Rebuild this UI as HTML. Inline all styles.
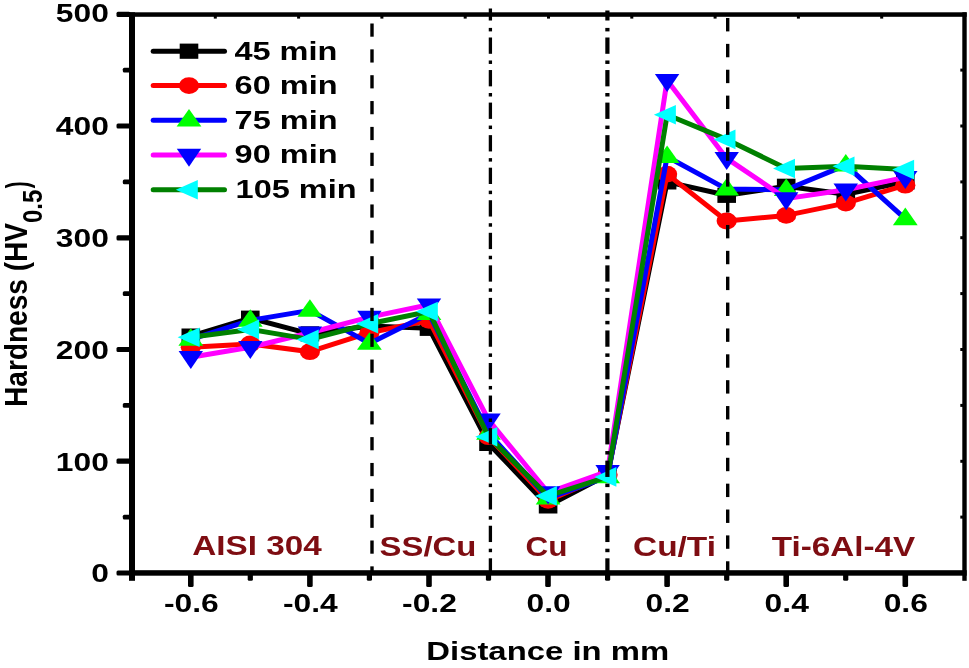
<!DOCTYPE html>
<html lang="en"><head><meta charset="utf-8"><title>Hardness vs distance</title>
<style>html,body{margin:0;padding:0;background:#fff;}body{width:969px;height:668px;overflow:hidden;}svg{display:block;}text{font-family:"Liberation Sans",Arial,Helvetica,sans-serif;font-weight:700;}</style>
</head><body>
<svg width="969" height="668" viewBox="0 0 969 668">
<rect x="0" y="0" width="969" height="668" fill="#ffffff"/>
<polyline points="190.8,336.1 250.3,318.2 309.9,333.9 369.4,326.0 429.0,328.3 488.5,443.4 548.1,505.9 607.6,474.7 667.1,181.9 726.7,195.3 786.2,186.3 845.8,194.2 905.3,181.9" fill="none" stroke="#000000" stroke-width="5" stroke-linejoin="round" stroke-linecap="round"/>
<rect x="181.5" y="328.5" width="18.6" height="15.2" fill="#000000"/>
<rect x="241.0" y="310.6" width="18.6" height="15.2" fill="#000000"/>
<rect x="300.6" y="326.3" width="18.6" height="15.2" fill="#000000"/>
<rect x="360.1" y="318.4" width="18.6" height="15.2" fill="#000000"/>
<rect x="419.7" y="320.7" width="18.6" height="15.2" fill="#000000"/>
<rect x="479.2" y="435.8" width="18.6" height="15.2" fill="#000000"/>
<rect x="538.8" y="498.3" width="18.6" height="15.2" fill="#000000"/>
<rect x="598.3" y="467.1" width="18.6" height="15.2" fill="#000000"/>
<rect x="657.8" y="174.3" width="18.6" height="15.2" fill="#000000"/>
<rect x="717.4" y="187.7" width="18.6" height="15.2" fill="#000000"/>
<rect x="776.9" y="178.7" width="18.6" height="15.2" fill="#000000"/>
<rect x="836.5" y="186.6" width="18.6" height="15.2" fill="#000000"/>
<rect x="896.0" y="174.3" width="18.6" height="15.2" fill="#000000"/>
<polyline points="190.8,347.3 250.3,343.9 309.9,351.7 369.4,332.7 429.0,320.4 488.5,436.7 548.1,500.4 607.6,474.7 667.1,174.1 726.7,221.0 786.2,215.4 845.8,203.1 905.3,185.2" fill="none" stroke="#ff0000" stroke-width="5" stroke-linejoin="round" stroke-linecap="round"/>
<ellipse cx="190.8" cy="347.3" rx="10.1" ry="8.4" fill="#ff0000"/>
<ellipse cx="250.3" cy="343.9" rx="10.1" ry="8.4" fill="#ff0000"/>
<ellipse cx="309.9" cy="351.7" rx="10.1" ry="8.4" fill="#ff0000"/>
<ellipse cx="369.4" cy="332.7" rx="10.1" ry="8.4" fill="#ff0000"/>
<ellipse cx="429.0" cy="320.4" rx="10.1" ry="8.4" fill="#ff0000"/>
<ellipse cx="488.5" cy="436.7" rx="10.1" ry="8.4" fill="#ff0000"/>
<ellipse cx="548.1" cy="500.4" rx="10.1" ry="8.4" fill="#ff0000"/>
<ellipse cx="607.6" cy="474.7" rx="10.1" ry="8.4" fill="#ff0000"/>
<ellipse cx="667.1" cy="174.1" rx="10.1" ry="8.4" fill="#ff0000"/>
<ellipse cx="726.7" cy="221.0" rx="10.1" ry="8.4" fill="#ff0000"/>
<ellipse cx="786.2" cy="215.4" rx="10.1" ry="8.4" fill="#ff0000"/>
<ellipse cx="845.8" cy="203.1" rx="10.1" ry="8.4" fill="#ff0000"/>
<ellipse cx="905.3" cy="185.2" rx="10.1" ry="8.4" fill="#ff0000"/>
<polyline points="190.8,339.4 250.3,320.4 309.9,310.4 369.4,343.4 429.0,313.7 488.5,433.3 548.1,498.1 607.6,476.9 667.1,156.7 726.7,189.1 786.2,189.7 845.8,165.1 905.3,218.8" fill="none" stroke="#0000ff" stroke-width="5" stroke-linejoin="round" stroke-linecap="round"/>
<polygon points="190.8,328.2 203.2,345.8 178.4,345.8" fill="#00ff00"/>
<polygon points="250.3,309.2 262.7,326.8 237.9,326.8" fill="#00ff00"/>
<polygon points="309.9,299.2 322.3,316.8 297.5,316.8" fill="#00ff00"/>
<polygon points="369.4,332.2 381.8,349.8 357.0,349.8" fill="#00ff00"/>
<polygon points="429.0,302.5 441.4,320.1 416.6,320.1" fill="#00ff00"/>
<polygon points="488.5,422.1 500.9,439.7 476.1,439.7" fill="#00ff00"/>
<polygon points="548.1,486.9 560.5,504.5 535.7,504.5" fill="#00ff00"/>
<polygon points="607.6,465.7 620.0,483.3 595.2,483.3" fill="#00ff00"/>
<polygon points="667.1,145.5 679.5,163.1 654.7,163.1" fill="#00ff00"/>
<polygon points="726.7,177.9 739.1,195.5 714.3,195.5" fill="#00ff00"/>
<polygon points="786.2,178.5 798.6,196.1 773.8,196.1" fill="#00ff00"/>
<polygon points="845.8,153.9 858.1,171.5 833.4,171.5" fill="#00ff00"/>
<polygon points="905.3,207.6 917.7,225.2 892.9,225.2" fill="#00ff00"/>
<polyline points="190.8,357.3 250.3,347.3 309.9,332.7 369.4,317.1 429.0,304.8 488.5,419.9 548.1,492.5 607.6,471.3 667.1,80.2 726.7,158.4 786.2,198.6 845.8,189.7 905.3,177.4" fill="none" stroke="#ff00ff" stroke-width="5" stroke-linejoin="round" stroke-linecap="round"/>
<polygon points="190.8,369.0 203.0,351.0 178.6,351.0" fill="#0000ff"/>
<polygon points="250.3,359.0 262.5,341.0 238.1,341.0" fill="#0000ff"/>
<polygon points="309.9,344.4 322.1,326.4 297.7,326.4" fill="#0000ff"/>
<polygon points="369.4,328.8 381.6,310.8 357.2,310.8" fill="#0000ff"/>
<polygon points="429.0,316.5 441.2,298.5 416.8,298.5" fill="#0000ff"/>
<polygon points="488.5,431.6 500.7,413.6 476.3,413.6" fill="#0000ff"/>
<polygon points="548.1,504.2 560.3,486.2 535.9,486.2" fill="#0000ff"/>
<polygon points="607.6,483.0 619.8,465.0 595.4,465.0" fill="#0000ff"/>
<polygon points="667.1,91.9 679.3,73.9 654.9,73.9" fill="#0000ff"/>
<polygon points="726.7,170.1 738.9,152.1 714.5,152.1" fill="#0000ff"/>
<polygon points="786.2,210.3 798.4,192.3 774.0,192.3" fill="#0000ff"/>
<polygon points="845.8,201.4 858.0,183.4 833.5,183.4" fill="#0000ff"/>
<polygon points="905.3,189.1 917.5,171.1 893.1,171.1" fill="#0000ff"/>
<polyline points="190.8,337.2 250.3,329.4 309.9,339.4 369.4,323.8 429.0,311.5 488.5,436.7 548.1,495.9 607.6,476.9 667.1,114.8 726.7,139.4 786.2,168.5 845.8,166.2 905.3,169.6" fill="none" stroke="#008000" stroke-width="5" stroke-linejoin="round" stroke-linecap="round"/>
<polygon points="177.6,337.2 199.6,327.4 199.6,347.0" fill="#00ffff"/>
<polygon points="237.1,329.4 259.1,319.6 259.1,339.2" fill="#00ffff"/>
<polygon points="296.7,339.4 318.7,329.6 318.7,349.2" fill="#00ffff"/>
<polygon points="356.2,323.8 378.2,314.0 378.2,333.6" fill="#00ffff"/>
<polygon points="415.8,311.5 437.8,301.7 437.8,321.3" fill="#00ffff"/>
<polygon points="475.3,436.7 497.3,426.9 497.3,446.5" fill="#00ffff"/>
<polygon points="534.9,495.9 556.9,486.1 556.9,505.7" fill="#00ffff"/>
<polygon points="594.4,476.9 616.4,467.1 616.4,486.7" fill="#00ffff"/>
<polygon points="653.9,114.8 675.9,105.0 675.9,124.6" fill="#00ffff"/>
<polygon points="713.5,139.4 735.5,129.6 735.5,149.2" fill="#00ffff"/>
<polygon points="773.0,168.5 795.0,158.7 795.0,178.3" fill="#00ffff"/>
<polygon points="832.5,166.2 854.5,156.4 854.5,176.0" fill="#00ffff"/>
<polygon points="892.1,169.6 914.1,159.8 914.1,179.4" fill="#00ffff"/>
<rect x="370.30" y="23.50" width="3.40" height="13.20" fill="#000"/>
<rect x="370.30" y="49.35" width="3.40" height="13.20" fill="#000"/>
<rect x="370.30" y="75.20" width="3.40" height="13.20" fill="#000"/>
<rect x="370.30" y="101.05" width="3.40" height="13.20" fill="#000"/>
<rect x="370.30" y="126.90" width="3.40" height="13.20" fill="#000"/>
<rect x="370.30" y="152.75" width="3.40" height="13.20" fill="#000"/>
<rect x="370.30" y="178.60" width="3.40" height="13.20" fill="#000"/>
<rect x="370.30" y="204.45" width="3.40" height="13.20" fill="#000"/>
<rect x="370.30" y="230.30" width="3.40" height="13.20" fill="#000"/>
<rect x="370.30" y="256.15" width="3.40" height="13.20" fill="#000"/>
<rect x="370.30" y="282.00" width="3.40" height="13.20" fill="#000"/>
<rect x="370.30" y="307.85" width="3.40" height="13.20" fill="#000"/>
<rect x="370.30" y="333.70" width="3.40" height="13.20" fill="#000"/>
<rect x="370.30" y="359.55" width="3.40" height="13.20" fill="#000"/>
<rect x="370.30" y="385.40" width="3.40" height="13.20" fill="#000"/>
<rect x="370.30" y="411.25" width="3.40" height="13.20" fill="#000"/>
<rect x="370.30" y="437.10" width="3.40" height="13.20" fill="#000"/>
<rect x="370.30" y="462.95" width="3.40" height="13.20" fill="#000"/>
<rect x="370.30" y="488.80" width="3.40" height="13.20" fill="#000"/>
<rect x="370.30" y="514.65" width="3.40" height="13.20" fill="#000"/>
<rect x="370.30" y="540.50" width="3.40" height="13.20" fill="#000"/>
<rect x="370.30" y="566.35" width="3.40" height="5.65" fill="#000"/>
<rect x="726.00" y="18.00" width="3.40" height="13.40" fill="#000"/>
<rect x="726.00" y="43.87" width="3.40" height="13.40" fill="#000"/>
<rect x="726.00" y="69.74" width="3.40" height="13.40" fill="#000"/>
<rect x="726.00" y="95.61" width="3.40" height="13.40" fill="#000"/>
<rect x="726.00" y="121.48" width="3.40" height="13.40" fill="#000"/>
<rect x="726.00" y="147.35" width="3.40" height="13.40" fill="#000"/>
<rect x="726.00" y="173.22" width="3.40" height="13.40" fill="#000"/>
<rect x="726.00" y="199.09" width="3.40" height="13.40" fill="#000"/>
<rect x="726.00" y="224.96" width="3.40" height="13.40" fill="#000"/>
<rect x="726.00" y="250.83" width="3.40" height="13.40" fill="#000"/>
<rect x="726.00" y="276.70" width="3.40" height="13.40" fill="#000"/>
<rect x="726.00" y="302.57" width="3.40" height="13.40" fill="#000"/>
<rect x="726.00" y="328.44" width="3.40" height="13.40" fill="#000"/>
<rect x="726.00" y="354.31" width="3.40" height="13.40" fill="#000"/>
<rect x="726.00" y="380.18" width="3.40" height="13.40" fill="#000"/>
<rect x="726.00" y="406.05" width="3.40" height="13.40" fill="#000"/>
<rect x="726.00" y="431.92" width="3.40" height="13.40" fill="#000"/>
<rect x="726.00" y="457.79" width="3.40" height="13.40" fill="#000"/>
<rect x="726.00" y="483.66" width="3.40" height="13.40" fill="#000"/>
<rect x="726.00" y="509.53" width="3.40" height="13.40" fill="#000"/>
<rect x="726.00" y="535.40" width="3.40" height="13.40" fill="#000"/>
<rect x="726.00" y="561.27" width="3.40" height="10.73" fill="#000"/>
<rect x="488.75" y="8.50" width="3.30" height="12.00" fill="#000"/>
<rect x="488.75" y="27.90" width="3.30" height="3.50" fill="#000"/>
<rect x="488.75" y="37.50" width="3.30" height="16.30" fill="#000"/>
<rect x="488.75" y="60.45" width="3.30" height="3.50" fill="#000"/>
<rect x="488.75" y="70.05" width="3.30" height="16.30" fill="#000"/>
<rect x="488.75" y="93.00" width="3.30" height="3.50" fill="#000"/>
<rect x="488.75" y="102.60" width="3.30" height="16.30" fill="#000"/>
<rect x="488.75" y="125.55" width="3.30" height="3.50" fill="#000"/>
<rect x="488.75" y="135.15" width="3.30" height="16.30" fill="#000"/>
<rect x="488.75" y="158.10" width="3.30" height="3.50" fill="#000"/>
<rect x="488.75" y="167.70" width="3.30" height="16.30" fill="#000"/>
<rect x="488.75" y="190.65" width="3.30" height="3.50" fill="#000"/>
<rect x="488.75" y="200.25" width="3.30" height="16.30" fill="#000"/>
<rect x="488.75" y="223.20" width="3.30" height="3.50" fill="#000"/>
<rect x="488.75" y="232.80" width="3.30" height="16.30" fill="#000"/>
<rect x="488.75" y="255.75" width="3.30" height="3.50" fill="#000"/>
<rect x="488.75" y="265.35" width="3.30" height="16.30" fill="#000"/>
<rect x="488.75" y="288.30" width="3.30" height="3.50" fill="#000"/>
<rect x="488.75" y="297.90" width="3.30" height="16.30" fill="#000"/>
<rect x="488.75" y="320.85" width="3.30" height="3.50" fill="#000"/>
<rect x="488.75" y="330.45" width="3.30" height="16.30" fill="#000"/>
<rect x="488.75" y="353.40" width="3.30" height="3.50" fill="#000"/>
<rect x="488.75" y="363.00" width="3.30" height="16.30" fill="#000"/>
<rect x="488.75" y="385.95" width="3.30" height="3.50" fill="#000"/>
<rect x="488.75" y="395.55" width="3.30" height="16.30" fill="#000"/>
<rect x="488.75" y="418.50" width="3.30" height="3.50" fill="#000"/>
<rect x="488.75" y="428.10" width="3.30" height="16.30" fill="#000"/>
<rect x="488.75" y="451.05" width="3.30" height="3.50" fill="#000"/>
<rect x="488.75" y="460.65" width="3.30" height="16.30" fill="#000"/>
<rect x="488.75" y="483.60" width="3.30" height="3.50" fill="#000"/>
<rect x="488.75" y="493.20" width="3.30" height="16.30" fill="#000"/>
<rect x="488.75" y="516.15" width="3.30" height="3.50" fill="#000"/>
<rect x="488.75" y="525.75" width="3.30" height="16.30" fill="#000"/>
<rect x="488.75" y="548.70" width="3.30" height="3.50" fill="#000"/>
<rect x="488.75" y="558.30" width="3.30" height="13.70" fill="#000"/>
<rect x="605.30" y="10.50" width="4.20" height="10.00" fill="#000"/>
<rect x="605.30" y="27.90" width="4.20" height="3.50" fill="#000"/>
<rect x="605.30" y="37.50" width="4.20" height="16.30" fill="#000"/>
<rect x="605.30" y="60.45" width="4.20" height="3.50" fill="#000"/>
<rect x="605.30" y="70.05" width="4.20" height="16.30" fill="#000"/>
<rect x="605.30" y="93.00" width="4.20" height="3.50" fill="#000"/>
<rect x="605.30" y="102.60" width="4.20" height="16.30" fill="#000"/>
<rect x="605.30" y="125.55" width="4.20" height="3.50" fill="#000"/>
<rect x="605.30" y="135.15" width="4.20" height="16.30" fill="#000"/>
<rect x="605.30" y="158.10" width="4.20" height="3.50" fill="#000"/>
<rect x="605.30" y="167.70" width="4.20" height="16.30" fill="#000"/>
<rect x="605.30" y="190.65" width="4.20" height="3.50" fill="#000"/>
<rect x="605.30" y="200.25" width="4.20" height="16.30" fill="#000"/>
<rect x="605.30" y="223.20" width="4.20" height="3.50" fill="#000"/>
<rect x="605.30" y="232.80" width="4.20" height="16.30" fill="#000"/>
<rect x="605.30" y="255.75" width="4.20" height="3.50" fill="#000"/>
<rect x="605.30" y="265.35" width="4.20" height="16.30" fill="#000"/>
<rect x="605.30" y="288.30" width="4.20" height="3.50" fill="#000"/>
<rect x="605.30" y="297.90" width="4.20" height="16.30" fill="#000"/>
<rect x="605.30" y="320.85" width="4.20" height="3.50" fill="#000"/>
<rect x="605.30" y="330.45" width="4.20" height="16.30" fill="#000"/>
<rect x="605.30" y="353.40" width="4.20" height="3.50" fill="#000"/>
<rect x="605.30" y="363.00" width="4.20" height="16.30" fill="#000"/>
<rect x="605.30" y="385.95" width="4.20" height="3.50" fill="#000"/>
<rect x="605.30" y="395.55" width="4.20" height="16.30" fill="#000"/>
<rect x="605.30" y="418.50" width="4.20" height="3.50" fill="#000"/>
<rect x="605.30" y="428.10" width="4.20" height="16.30" fill="#000"/>
<rect x="605.30" y="451.05" width="4.20" height="3.50" fill="#000"/>
<rect x="605.30" y="460.65" width="4.20" height="16.30" fill="#000"/>
<rect x="605.30" y="483.60" width="4.20" height="3.50" fill="#000"/>
<rect x="605.30" y="493.20" width="4.20" height="16.30" fill="#000"/>
<rect x="605.30" y="516.15" width="4.20" height="3.50" fill="#000"/>
<rect x="605.30" y="525.75" width="4.20" height="16.30" fill="#000"/>
<rect x="605.30" y="548.70" width="4.20" height="3.50" fill="#000"/>
<rect x="605.30" y="558.30" width="4.20" height="13.70" fill="#000"/>
<rect x="129" y="12.3" width="6" height="568.5" fill="#000"/>
<rect x="962.3" y="12.3" width="4.4" height="568.5" fill="#000"/>
<rect x="129" y="12.3" width="837.7" height="4.5" fill="#000"/>
<rect x="129" y="570.2" width="837.7" height="5.5" fill="#000"/>
<rect x="116.5" y="570.4" width="14" height="5.2" rx="1.5" fill="#000"/>
<rect x="122.8" y="514.7" width="8" height="4.8" rx="1.5" fill="#000"/>
<rect x="960.3" y="515.6" width="3" height="3" fill="#000"/>
<rect x="116.5" y="458.6" width="14" height="5.2" rx="1.5" fill="#000"/>
<rect x="960.3" y="459.8" width="3" height="3" fill="#000"/>
<rect x="122.8" y="403.0" width="8" height="4.8" rx="1.5" fill="#000"/>
<rect x="960.3" y="403.9" width="3" height="3" fill="#000"/>
<rect x="116.5" y="346.9" width="14" height="5.2" rx="1.5" fill="#000"/>
<rect x="960.3" y="348.0" width="3" height="3" fill="#000"/>
<rect x="122.8" y="291.2" width="8" height="4.8" rx="1.5" fill="#000"/>
<rect x="960.3" y="292.1" width="3" height="3" fill="#000"/>
<rect x="116.5" y="235.2" width="14" height="5.2" rx="1.5" fill="#000"/>
<rect x="960.3" y="236.2" width="3" height="3" fill="#000"/>
<rect x="122.8" y="179.5" width="8" height="4.8" rx="1.5" fill="#000"/>
<rect x="960.3" y="180.4" width="3" height="3" fill="#000"/>
<rect x="116.5" y="123.4" width="14" height="5.2" rx="1.5" fill="#000"/>
<rect x="960.3" y="124.5" width="3" height="3" fill="#000"/>
<rect x="122.8" y="67.7" width="8" height="4.8" rx="1.5" fill="#000"/>
<rect x="960.3" y="68.6" width="3" height="3" fill="#000"/>
<rect x="116.5" y="11.7" width="14" height="5.2" rx="1.5" fill="#000"/>
<rect x="188.0" y="573" width="5.6" height="14" rx="1.5" fill="#000"/>
<rect x="247.7" y="573" width="5.2" height="7.8" rx="1.5" fill="#000"/>
<rect x="307.1" y="573" width="5.6" height="14" rx="1.5" fill="#000"/>
<rect x="366.8" y="573" width="5.2" height="7.8" rx="1.5" fill="#000"/>
<rect x="426.2" y="573" width="5.6" height="14" rx="1.5" fill="#000"/>
<rect x="485.9" y="573" width="5.2" height="7.8" rx="1.5" fill="#000"/>
<rect x="545.2" y="573" width="5.6" height="14" rx="1.5" fill="#000"/>
<rect x="605.0" y="573" width="5.2" height="7.8" rx="1.5" fill="#000"/>
<rect x="664.3" y="573" width="5.6" height="14" rx="1.5" fill="#000"/>
<rect x="724.1" y="573" width="5.2" height="7.8" rx="1.5" fill="#000"/>
<rect x="783.4" y="573" width="5.6" height="14" rx="1.5" fill="#000"/>
<rect x="843.1" y="573" width="5.2" height="7.8" rx="1.5" fill="#000"/>
<rect x="902.5" y="573" width="5.6" height="14" rx="1.5" fill="#000"/>
<rect x="213.8" y="15" width="3" height="3.6" fill="#000"/>
<rect x="297.1" y="15" width="3" height="3.6" fill="#000"/>
<rect x="380.4" y="15" width="3" height="3.6" fill="#000"/>
<rect x="463.7" y="15" width="3" height="3.6" fill="#000"/>
<rect x="547.0" y="15" width="3" height="3.6" fill="#000"/>
<rect x="630.3" y="15" width="3" height="3.6" fill="#000"/>
<rect x="713.6" y="15" width="3" height="3.6" fill="#000"/>
<rect x="796.9" y="15" width="3" height="3.6" fill="#000"/>
<rect x="880.2" y="15" width="3" height="3.6" fill="#000"/>
<g font-family="'Liberation Sans', Arial, Helvetica, sans-serif" font-weight="700">
<text transform="translate(55.80,22.00) scale(1.1990,1)" font-size="26.5" fill="#000">500</text>
<text transform="translate(55.80,135.40) scale(1.1990,1)" font-size="26.5" fill="#000">400</text>
<text transform="translate(55.80,247.15) scale(1.1990,1)" font-size="26.5" fill="#000">300</text>
<text transform="translate(55.80,358.90) scale(1.1990,1)" font-size="26.5" fill="#000">200</text>
<text transform="translate(55.80,470.65) scale(1.1990,1)" font-size="26.5" fill="#000">100</text>
<text transform="translate(91.13,582.40) scale(1.1990,1)" font-size="26.5" fill="#000">0</text>
<text transform="translate(163.91,612.00) scale(1.2002,1)" font-size="26.5" fill="#000">-0.6</text>
<text transform="translate(282.99,612.00) scale(1.2002,1)" font-size="26.5" fill="#000">-0.4</text>
<text transform="translate(402.07,612.00) scale(1.2002,1)" font-size="26.5" fill="#000">-0.2</text>
<text transform="translate(526.45,612.00) scale(1.2002,1)" font-size="26.5" fill="#000">0.0</text>
<text transform="translate(645.53,612.00) scale(1.2002,1)" font-size="26.5" fill="#000">0.2</text>
<text transform="translate(764.61,612.00) scale(1.2002,1)" font-size="26.5" fill="#000">0.4</text>
<text transform="translate(883.69,612.00) scale(1.2002,1)" font-size="26.5" fill="#000">0.6</text>
<text transform="translate(426.30,659.90) scale(1.2402,1)" font-size="26.5" fill="#000">Distance in mm</text>
<text transform="translate(234.40,59.90) scale(1.2269,1)" font-size="26.5" fill="#000">45 min</text>
<text transform="translate(234.60,94.40) scale(1.2269,1)" font-size="26.5" fill="#000">60 min</text>
<text transform="translate(234.60,128.90) scale(1.2269,1)" font-size="26.5" fill="#000">75 min</text>
<text transform="translate(234.60,163.40) scale(1.2269,1)" font-size="26.5" fill="#000">90 min</text>
<text transform="translate(235.60,197.90) scale(1.2269,1)" font-size="26.5" fill="#000">105 min</text>
<text transform="translate(192.20,554.60) scale(1.2068,1)" font-size="27.6" fill="#7e0d12">AISI 304</text>
<text transform="translate(379.60,556.00) scale(1.2084,1)" font-size="27.2" fill="#7e0d12">SS/Cu</text>
<text transform="translate(525.60,555.80) scale(1.1584,1)" font-size="27.2" fill="#7e0d12">Cu</text>
<text transform="translate(633.00,555.80) scale(1.2299,1)" font-size="27.2" fill="#7e0d12">Cu/Ti</text>
<text transform="translate(771.80,556.00) scale(1.2215,1)" font-size="27.2" fill="#7e0d12">Ti-6Al-4V</text>
<text transform="translate(27.30,407.00) rotate(-90) scale(1.0599,1.2069)" font-size="26.5" fill="#000">Hardness (HV</text>
<text transform="translate(41.80,223.00) rotate(-90) scale(1.3349,1.5363)" font-size="18" fill="#000">0.5</text>
<text transform="translate(27.80,188.20) rotate(-90) scale(0.7819,1.2069)" font-size="26.5" fill="#000">)</text>
</g>
<line x1="153.2" y1="51.2" x2="224.5" y2="51.2" stroke="#000000" stroke-width="5" stroke-linecap="round"/>
<rect x="179.7" y="43.6" width="18.6" height="15.2" fill="#000000"/>
<line x1="153.2" y1="85.6" x2="224.5" y2="85.6" stroke="#ff0000" stroke-width="5" stroke-linecap="round"/>
<ellipse cx="189.0" cy="85.6" rx="10.1" ry="8.4" fill="#ff0000"/>
<line x1="153.2" y1="120.2" x2="224.5" y2="120.2" stroke="#0000ff" stroke-width="5" stroke-linecap="round"/>
<polygon points="189.0,109.0 201.4,126.6 176.6,126.6" fill="#00ff00"/>
<line x1="153.2" y1="155.0" x2="224.5" y2="155.0" stroke="#ff00ff" stroke-width="5" stroke-linecap="round"/>
<polygon points="189.0,166.7 201.2,148.7 176.8,148.7" fill="#0000ff"/>
<line x1="153.2" y1="189.7" x2="224.5" y2="189.7" stroke="#008000" stroke-width="5" stroke-linecap="round"/>
<polygon points="175.8,189.7 197.8,179.9 197.8,199.5" fill="#00ffff"/>
</svg>
</body></html>
